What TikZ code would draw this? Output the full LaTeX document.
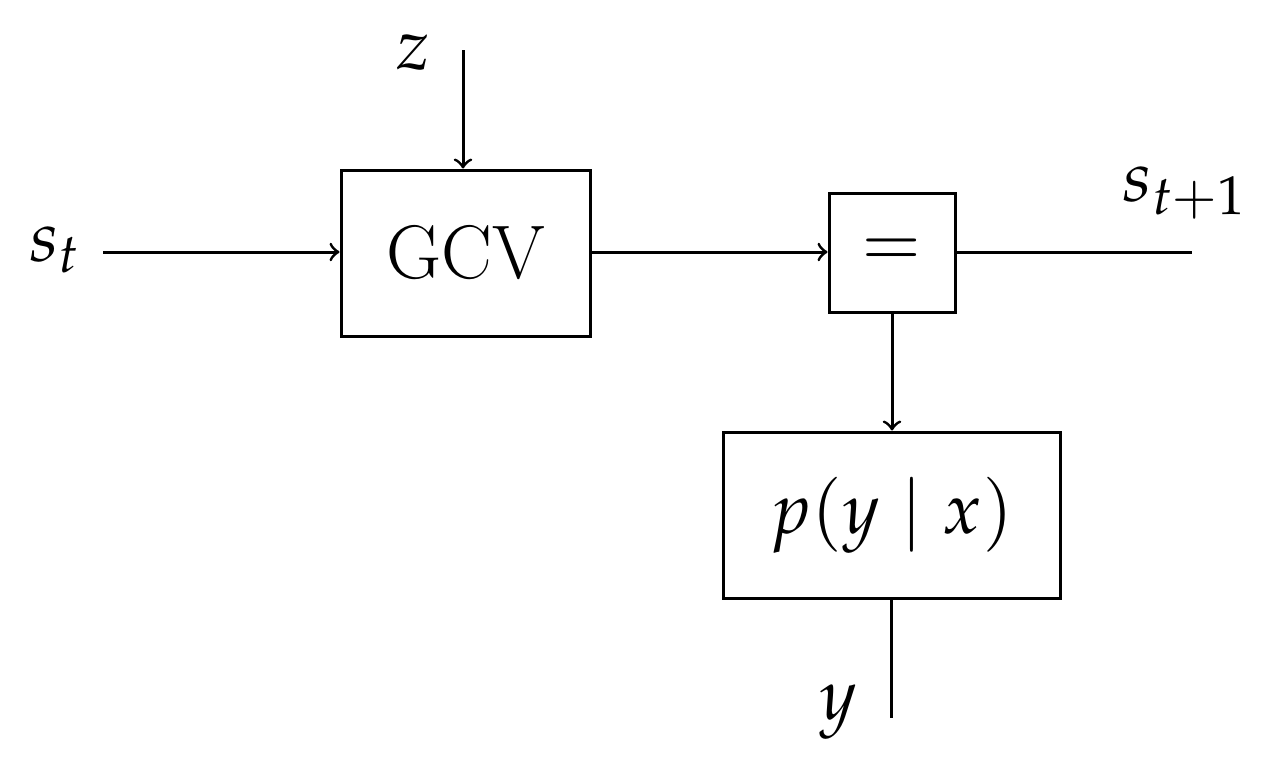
\documentclass[tikz,border=0pt]{standalone}
\usepackage{mathpazo}
\begin{document}
\begin{tikzpicture}[x=0.25pt,y=-0.25pt,line width=0.75pt,
  box/.style={draw,inner sep=0pt},
  lab/.style={font=\fontsize{18}{20}\selectfont},
  arr/.style={->}]
\useasboundingbox (0,0) rectangle (1282,771);
\node[box,minimum width=62.25pt,minimum height=41.5pt,font=\fontsize{19}{20}\selectfont\bfseries] (gcv) at (465.5,253) {GCV};
\node[box,minimum width=31.5pt,minimum height=29.75pt,lab] (eq) at (892,252.5) {$=$};
\node[box,minimum width=84.25pt,minimum height=41.5pt,lab] (p) at (891.5,515) {$p(y\mid x)$};
\node[lab] (st) at (55,250) {$s_t$};
\node[lab] (z) at (413,52) {$z$};
\node[lab] (st1) at (1185,193) {$s_{t+1}$};
\node[lab] (y) at (838,712) {$y$};
\coordinate (a) at (103,252);
\coordinate (zt) at (463,50);
\coordinate (r) at (1192,252);
\coordinate (yb) at (891,718);
\draw[arr] (a) -- (gcv.west|-a);
\draw[arr] (zt) -- (zt|-gcv.north);
\draw[arr] (gcv.east|-a) -- (eq.west|-a);
\draw (eq.east|-a) -- (r);
\draw[arr] (eq.south) -- (eq.south|-p.north);
\draw (p.south-|yb) -- (yb);
\end{tikzpicture}
\end{document}
